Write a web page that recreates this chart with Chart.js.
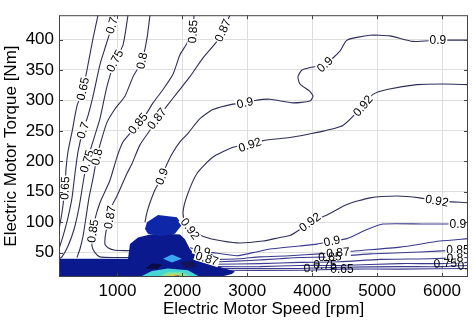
<!DOCTYPE html>
<html><head><meta charset="utf-8">
<script src="https://cdn.jsdelivr.net/npm/chart.js@4.4.0/dist/chart.umd.min.js"></script>
<style>html,body{margin:0;padding:0;background:#fff;}canvas{display:block;}</style>
</head><body>
<canvas id="c" width="474" height="325"></canvas>
<script>
// ---- axis ticks ----
const xTicks = [1000, 2000, 3000, 4000, 5000, 6000];
const yTicks = [50, 100, 150, 200, 250, 300, 350, 400];

// ---- contour lines (speed rpm, torque Nm) ----
const c065 = [[701,440],[624,402],[531,350],[470,319],[377,291],[300,248],[239,216],[208,188],[192,156],[146,116],[100,88]];
const c070 = [[962,440],[916,423],[824,391],[731,359],[624,307],[547,275],[470,251],[393,216],[346,180],[300,140],[239,108],[162,77],[100,56]];
const c075 = [[1163,440],[1086,391],[962,365],[839,323],[731,270],[654,243],[531,200],[470,164],[408,124],[331,88],[239,61],[146,43],[100,40]];
const c080 = [[1501,440],[1455,402],[1378,365],[1240,339],[1116,307],[962,286],[839,264],[731,227],[685,207],[624,172],[562,140],[516,108],[470,77],[423,56],[377,42]];
const c085 = [[2179,440],[2164,413],[2056,391],[1963,375],[1856,343],[1702,318],[1548,296],[1455,280],[1317,262],[1193,246],[1086,232],[993,207],[885,169],[731,132],[654,105],[624,85],[608,61],[654,50],[731,43],[962,42],[1270,42]];
const c087 = [[2733,440],[2626,415],[2533,397],[2318,370],[2117,339],[1917,312],[1763,291],[1609,270],[1501,251],[1347,227],[1224,196],[1147,180],[993,143],[916,127],[885,108],[824,85],[808,64],[855,58],[962,54],[1240,53],[1347,51]];
const c090 = [[6399,399],[5937,399],[5552,397],[5197,406],[4889,407],[4535,399],[4427,381],[4196,359],[3965,354],[3842,350],[3781,339],[3811,327],[3965,315],[4012,307],[3965,299],[3704,296],[3349,302],[3118,300],[2964,296],[2780,294],[2472,285],[2271,270],[2087,246],[1963,232],[1840,212],[1732,188],[1686,175],[1578,153],[1501,132],[1455,116],[1424,100]];
const c092 = [[6399,326],[6014,327],[5613,326],[5151,318],[4936,310],[4782,291],[4474,259],[4012,246],[3657,239],[3242,234],[3041,227],[2780,223],[2472,207],[2225,180],[2071,143],[2010,116],[2040,100],[2117,89],[2225,81],[2318,77],[2472,72],[2841,66],[3242,69],[3503,75],[3657,78],[3811,88],[3965,100],[4227,112],[4535,129],[4889,140],[5305,143],[5659,140],[5921,135],[6399,132]];
const c090b = [[2117,58],[2302,53],[2472,50],[2841,45],[3088,50],[3349,56],[3811,61],[4073,64],[4304,69],[4535,73],[4843,88],[5090,97],[5706,97],[6245,97],[6399,97]];
const c087b = [[2318,42],[2379,40],[2533,39],[2887,40],[3195,43],[3657,45],[4119,48],[4397,50],[4689,53],[5351,59],[5967,69],[6399,73]];
const c085b = [[2472,34],[2579,35],[3041,37],[3503,40],[3811,42],[4273,43],[4889,48],[5659,51],[6199,54],[6399,54]];
const c080b = [[2502,31],[3195,32],[3811,34],[4427,35],[5043,39],[5813,40],[6399,42]];
const c075b = [[2549,27],[3195,27],[3811,29],[4427,29],[5351,32],[5967,32],[6399,34]];
const c070b = [[2579,24],[3811,24],[4427,26],[5351,27],[5967,27],[6399,29]];
const c065b = [[2610,21],[3811,21],[4427,23],[5351,23],[6399,24]];

// ---- filled low-efficiency regions (rpm, Nm) ----
const regionLow = [[100,10],[100,40],[1163,40],[1193,64],[1317,75],[1501,80],[1732,81],[1963,80],[2040,72],[2117,56],[2225,43],[2348,35],[2502,29],[2656,24],[2810,19],[2764,15],[2579,10]];
const regionUpper = [[1424,89],[1455,100],[1625,112],[1917,108],[1994,96],[1886,81],[1655,77],[1471,81]];
const blobCyan = [[1347,10],[1532,20],[1778,24],[2087,21],[2271,10]];
const blobGreen = [[1625,10],[1778,18],[1994,18],[2148,10]];
const blobYellow = [[1702,10],[1840,15],[2056,10]];
const blobRed = [[1778,10],[1932,13],[2025,10]];
const blobDark1 = [[1424,24],[1532,32],[1686,31],[1625,23]];
const blobDark2 = [[2271,45],[2425,50],[2549,40],[2456,29],[2318,34]];
const blobDark3 = [[1963,34],[2148,37],[2240,27],[2056,24]];
const blobLightBlue = [[1702,40],[1840,47],[1994,40],[1840,34]];

// ---- contour labels: [line, text, rpm, Nm] ----
const labels = [
 ['c065','0.65',470,319],['c065','0.65',192,156],
 ['c070','0.7',916,423],['c070','0.7',470,251],
 ['c075','0.75',962,365],['c075','0.75',531,200],
 ['c080','0.8',1378,365],['c080','0.8',685,207],
 ['c085','0.85',2164,413],['c085','0.85',1317,262],['c085','0.85',654,85],
 ['c087','0.87',2626,415],['c087','0.87',1609,270],['c087','0.87',885,108],
 ['c090','0.9',2964,296],['c090','0.9',4196,359],['c090','0.9',5937,399],['c090','0.9',1686,175],
 ['c092','0.92',3041,227],['c092','0.92',4782,291],['c092','0.92',2117,89],['c092','0.92',3965,100],['c092','0.92',5921,135],
 ['c090b','0.9',2302,53],['c090b','0.9',4304,69],['c090b','0.9',6245,97],
 ['c087b','0.87',2379,40],['c087b','0.87',4397,50],
 ['c085b','0.85',6245,54],['c080b','0.8',6199,42]
];
const clutterLabels = [
 ['c085b','0.85',4273,43],['c075b','0.75',4196,27],['c065b','0.65',4458,23],
 ['c070b','0.7',3996,26],['c070b','0.7',6368,27],['c075b','0.75',6050,32]
];

const lines = {c065,c070,c075,c080,c085,c087,c090,c092,c090b,c087b,c085b,c080b,c075b,c070b,c065b};
const lowerNames = ['c090b','c087b','c085b','c080b','c075b','c070b','c065b'];

const FONT = "'Liberation Sans', Arial, sans-serif";
Chart.defaults.font.family = FONT;
Chart.defaults.color = '#000';

const datasets = Object.keys(lines).map(name => ({
  label: name,
  data: lines[name].map(([x, y]) => ({x, y})),
  showLine: true,
  pointRadius: 0,
  borderWidth: 1.1,
  borderColor: lowerNames.includes(name) ? '#3a3a8e' : '#2e2e5a',
  tension: 0.2,
  fill: false
}));

const regions = [
  [regionLow, '#0a1a8e'],
  [regionUpper, '#0d27a8'],
  [blobCyan, '#47d6d6'],
  [blobGreen, '#86e39a'],
  [blobYellow, '#d9cf4a'],
  [blobRed, '#b8402c'],
  [blobDark1, '#0b0b44'],
  [blobDark2, '#0b0b44'],
  [blobDark3, '#14145a'],
  [blobLightBlue, '#3aa6f0']
];

function drawLabel(ctx, xs, ys, item, withBg) {
  const [name, text, vx, vy] = item;
  const pts = lines[name].map(([a, b]) => [xs.getPixelForValue(a), ys.getPixelForValue(b)]);
  const px = xs.getPixelForValue(vx), py = ys.getPixelForValue(vy);
  let best = Infinity, ang = 0, sx = px, sy = py;
  for (let i = 0; i < pts.length - 1; i++) {
    const [x1, y1] = pts[i], [x2, y2] = pts[i + 1];
    const dx = x2 - x1, dy = y2 - y1, L = dx * dx + dy * dy || 1;
    let t = ((px - x1) * dx + (py - y1) * dy) / L;
    t = Math.max(0, Math.min(1, t));
    const qx = x1 + t * dx, qy = y1 + t * dy;
    const d = (qx - px) ** 2 + (qy - py) ** 2;
    if (d < best) { best = d; ang = Math.atan2(dy, dx); sx = qx; sy = qy; }
  }
  if (ang > Math.PI / 2) ang -= Math.PI;
  if (ang < -Math.PI / 2) ang += Math.PI;
  ctx.save();
  ctx.translate(sx, sy);
  ctx.rotate(ang);
  const w = ctx.measureText(text).width;
  if (withBg) { ctx.fillStyle = '#fff'; ctx.fillRect(-w / 2 - 1, -5, w + 2, 10); }
  ctx.fillStyle = '#000';
  ctx.textAlign = 'center';
  ctx.textBaseline = 'middle';
  ctx.fillText(text, 0, 0.5);
  ctx.restore();
}

const overlay = {
  id: 'overlay',
  afterDatasetsDraw(chart) {
    const {ctx, chartArea: a, scales: {x: xs, y: ys}} = chart;
    ctx.save();
    ctx.beginPath();
    ctx.rect(a.left, a.top, a.right - a.left, a.bottom - a.top);
    ctx.clip();
    regions.forEach(([pts, color]) => {
      ctx.beginPath();
      pts.forEach(([vx, vy], i) => {
        const px = xs.getPixelForValue(vx), py = ys.getPixelForValue(vy);
        if (i) ctx.lineTo(px, py); else ctx.moveTo(px, py);
      });
      ctx.closePath();
      ctx.fillStyle = color;
      ctx.fill();
    });
    ctx.font = '12px ' + FONT;
    labels.forEach(l => drawLabel(ctx, xs, ys, l, true));
    clutterLabels.forEach(l => drawLabel(ctx, xs, ys, l, false));
    ctx.restore();

    // frame + inward ticks
    ctx.save();
    ctx.strokeStyle = '#444';
    ctx.lineWidth = 1;
    ctx.strokeRect(a.left + 0.5, a.top + 0.5, a.right - a.left - 1, a.bottom - a.top - 1);
    ctx.beginPath();
    xTicks.forEach(v => {
      const px = Math.round(xs.getPixelForValue(v)) + 0.5;
      ctx.moveTo(px, a.bottom); ctx.lineTo(px, a.bottom - 4);
      ctx.moveTo(px, a.top); ctx.lineTo(px, a.top + 4);
    });
    yTicks.forEach(v => {
      const py = Math.round(ys.getPixelForValue(v)) + 0.5;
      ctx.moveTo(a.left, py); ctx.lineTo(a.left + 4, py);
      ctx.moveTo(a.right, py); ctx.lineTo(a.right - 4, py);
    });
    ctx.stroke();
    ctx.restore();
  }
};

new Chart(document.getElementById('c'), {
  type: 'scatter',
  data: {datasets},
  options: {
    responsive: false,
    animation: false,
    devicePixelRatio: 1,
    layout: {padding: {top: 6, right: 6, left: 0, bottom: 0}},
    plugins: {legend: {display: false}, tooltip: {enabled: false}},
    scales: {
      x: {
        type: 'linear', min: 100, max: 6400,
        afterBuildTicks: s => { s.ticks = xTicks.map(v => ({value: v})); },
        afterFit: s => { s.height = 48; },
        grid: {color: '#dedede', lineWidth: 1, drawTicks: false},
        border: {display: false},
        ticks: {font: {size: 17}, padding: 4, maxRotation: 0, autoSkip: false, callback: v => String(v)},
        title: {display: true, text: 'Electric Motor Speed [rpm]', font: {size: 17, lineHeight: 1.2}, padding: {top: 0, bottom: 5}}
      },
      y: {
        type: 'linear', min: 10, max: 440,
        afterBuildTicks: s => { s.ticks = yTicks.map(v => ({value: v})); },
        afterFit: s => { s.width = 59; },
        grid: {color: '#dedede', lineWidth: 1, drawTicks: false},
        border: {display: false},
        ticks: {font: {size: 17}, padding: 5, autoSkip: false, callback: v => String(v)},
        title: {display: true, text: 'Electric Motor Torque [Nm]', font: {size: 17, lineHeight: 1.2}, padding: {top: 1, bottom: 0}}
      }
    }
  },
  plugins: [overlay]
});
</script>
</body></html>
